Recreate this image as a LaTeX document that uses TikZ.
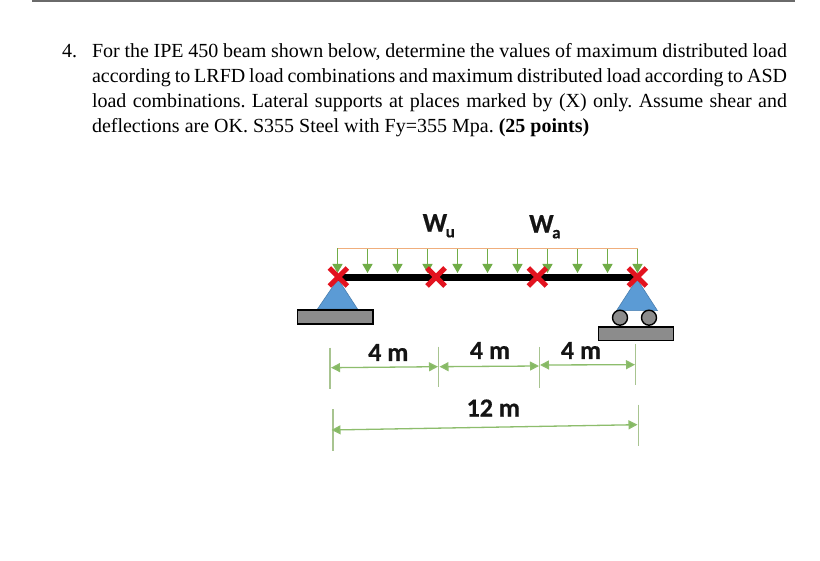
\documentclass[tikz,border=0pt]{standalone}
\usepackage{fontspec}
\setmainfont{Liberation Serif}
\newfontfamily\lblfont[BoldFeatures={FakeBold=0.5}]{Carlito}
\usetikzlibrary{arrows.meta}
\definecolor{loadorange}{HTML}{F0AE7C}
\definecolor{loadgreen}{HTML}{70AD47}
\definecolor{tickgreen}{HTML}{A8C490}
\definecolor{supblue}{HTML}{5B9BD5}
\definecolor{supedge}{HTML}{4A7FB0}
\definecolor{basegray}{HTML}{8C8C8C}
\definecolor{crossred}{HTML}{E3131F}
\definecolor{rulegray}{HTML}{6A6A6A}
\frenchspacing
\tikzset{
  line width=1pt,
  para/.style={anchor=base west,inner sep=0pt,outer sep=0pt,font=\fontsize{20}{24}\selectfont},
  dimlabel/.style={inner sep=0pt,font=\lblfont\bfseries\fontsize{26}{28}\selectfont,text=black!92},
  wlabel/.style={anchor=base west,inner sep=0pt,font=\lblfont\bfseries\fontsize{27}{28}\selectfont,text=black!92},
  wsub/.style={anchor=base west,inner sep=0pt,font=\lblfont\bfseries\fontsize{17}{18}\selectfont,text=black!92},
  loadline/.style={draw=loadorange,line width=1.6pt},
  loadarrow/.style={draw=loadgreen,line width=1.2pt,-{Triangle[length=9pt,width=10pt,fill=loadgreen]}},
  beamline/.style={draw=black,line width=7.5pt},
  support/.style={fill=supblue,draw=supedge,line width=0.6pt},
  basebox/.style={fill=basegray,draw=black,line width=1.4pt},
  roller/.style={circle,minimum size=15pt,inner sep=0pt,fill=basegray,draw=black,line width=1.4pt},
  crossmark/.style={draw=crossred,line width=5pt},
  dimarrow/.style={draw=loadgreen!80!white,line width=1.3pt,{Triangle[length=9pt,width=9pt,fill=loadgreen!85!white]}-{Triangle[length=9pt,width=9pt,fill=loadgreen!85!white]}},
  dimtick/.style={draw=tickgreen,line width=1.1pt},
}
\begin{document}
\begin{tikzpicture}[x=1pt,y=-1pt]
\useasboundingbox (0,0) rectangle (820,561);
\fill[white] (0,0) rectangle (820,561);
% top rule
\coordinate (ruleL) at (32,1);
\coordinate (ruleR) at (795,1);
\draw[rulegray,line width=2pt] (ruleL) -- (ruleR);
% question text
\node[para] (qnum) at (62,57.5) {4.};
\node[para] (q1) at (92,57.5) {\makebox[695pt][s]{For the IPE 450 beam shown below, determine the values of maximum distributed load}};
\node[para] (q2) at (92,82.5) {\makebox[695pt][s]{according to LRFD load combinations and maximum distributed load according to ASD}};
\node[para] (q3) at (92,107.5) {\makebox[695pt][s]{load combinations. Lateral supports at places marked by (X) only. Assume shear and}};
\node[para] (q4) at (92,132.5) {deflections are OK. S355 Steel with Fy=355 Mpa. \textbf{(25 points)}};
% load labels
\node[wlabel] (wu) at (422.5,231.7) {W};
\node[wsub] (wus) at (445.5,237.3) {u};
\node[wlabel] (wa) at (529,232.7) {W};
\node[wsub] (was) at (552,238.3) {a};
% supports
\coordinate (ta) at (338,279);
\coordinate (tb) at (317.5,309);
\coordinate (tc) at (357.5,309);
\filldraw[support] (ta) -- (tb) -- (tc) -- cycle;
\node[basebox,minimum width=75.5pt,minimum height=14pt,inner sep=0pt] (baseL) at (335.2,317) {};
\coordinate (ra) at (637,279);
\coordinate (rb) at (616.5,310.7);
\coordinate (rc) at (657.5,310.7);
\filldraw[support] (ra) -- (rb) -- (rc) -- cycle;
\node[roller] (r1) at (620,317.7) {};
\node[roller] (r2) at (649,317.7) {};
\node[basebox,minimum width=75pt,minimum height=13.7pt,inner sep=0pt] (baseR) at (636.2,333.8) {};
% load
\coordinate (loadL) at (337.5,248.5);
\coordinate (loadR) at (637.5,248.5);
\foreach \i in {0,...,10}{
  \coordinate (lt\i) at ({337.5+30*\i},248.5);
  \coordinate (lb\i) at ({337.5+30*\i},273);
  \draw[loadarrow] (lt\i) -- (lb\i);
}
\draw[loadline] (loadL) -- (loadR);
% beam
\coordinate (beamL) at (338,277.5);
\coordinate (beamR) at (637,277.5);
\draw[beamline] (beamL) -- (beamR);
% lateral support crosses
\foreach \n/\cx in {1/338.3,2/436,3/537.3,4/637.3}{
  \coordinate (xa\n) at ({\cx-9},268);
  \coordinate (xb\n) at ({\cx+9},286);
  \coordinate (xc\n) at ({\cx-9},286);
  \coordinate (xd\n) at ({\cx+9},268);
  \draw[crossmark] (xa\n) -- (xb\n);
  \draw[crossmark] (xc\n) -- (xd\n);
}
% dimension ticks
\foreach \n/\tx/\ya/\yb in {1/330/347.7/389.3,2/438.7/346.7/387.3,3/539.3/347/388,4/635.3/344/385,5/333/409.3/450.7,6/638.3/404.7/446}{
  \coordinate (ta\n) at (\tx,\ya);
  \coordinate (tb\n) at (\tx,\yb);
  \draw[dimtick] (ta\n) -- (tb\n);
}
% dimension arrows
\coordinate (d1a) at (331,367.7); \coordinate (d1b) at (438,366.7);
\coordinate (d2a) at (439.5,366.7); \coordinate (d2b) at (539,366);
\coordinate (d3a) at (540,365); \coordinate (d3b) at (635,364.7);
\coordinate (d4a) at (331.5,430); \coordinate (d4b) at (637.5,424.7);
\draw[dimarrow] (d1a) -- (d1b);
\draw[dimarrow] (d2a) -- (d2b);
\draw[dimarrow] (d3a) -- (d3b);
\draw[dimarrow] (d4a) -- (d4b);
% dimension labels
\node[dimlabel] (l1) at (388.3,352.5) {4 m};
\node[dimlabel] (l2) at (490,350.5) {4 m};
\node[dimlabel] (l3) at (581,350.5) {4 m};
\node[dimlabel] (l4) at (493.3,408) {12 m};
\end{tikzpicture}
\end{document}
